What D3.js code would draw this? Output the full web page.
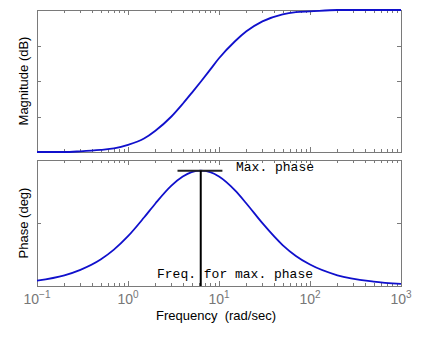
<!DOCTYPE html>
<html><head><meta charset="utf-8">
<script src="https://cdn.jsdelivr.net/npm/d3@7"></script>
<style>body{margin:0;background:#fff}svg{display:block}</style>
</head><body>
<svg id="chart" width="424" height="337"></svg>
<script>
// Frequencies (rad/sec)
const freqs = [0.1, 0.2, 0.3, 0.5, 0.7, 1, 1.5, 2, 3, 4, 5, 6.3, 8, 10, 15, 20, 30, 50, 70, 100, 200, 500, 1000];
// Magnitude (dB)
const magnitude = [0.0, 0.0, 0.1, 0.3, 0.5, 1.0, 1.9, 3.0, 5.0, 6.8, 8.3, 9.9, 11.6, 13.2, 15.6, 17.0, 18.4, 19.4, 19.7, 19.8, 20.0, 20.0, 20.0];
// Phase (deg)
const phase = [2.6, 5.1, 7.7, 12.6, 17.3, 23.7, 32.6, 39.3, 47.8, 52.1, 54.2, 54.9, 54.2, 52.1, 45.5, 39.3, 29.9, 19.5, 14.3, 10.2, 5.1, 2.1, 1.0];
// x tick labels (exponents of 10)
const xTickExps = [-1, 0, 1, 2, 3];
// y tick values (no labels shown)
const magTicks = [0, 5, 10, 15, 20];
const phaseTicks = [0, 30, 60];
// Annotation
const maxPhaseFreq = 6.3, maxPhase = 54.9;
const maxPhaseBar = [3.5, 10.9];
const annoLabels = ["Max. phase", "Freq. for max. phase"];

const svg = d3.select("#chart");
const x = d3.scaleLog().domain([0.1, 1000]).range([37, 401]);
const yMag = d3.scaleLinear().domain([0, 20]).range([152, 10]);
const yPh = d3.scaleLinear().domain([0, 60]).range([286, 160]);

const frameColor = "#7a7a7a";
const majors = xTickExps.map(e => Math.pow(10, e));
const minors = [];
for (let e = -1; e < 3; e++) for (let k = 2; k <= 9; k++) minors.push(k * Math.pow(10, e));

function panel(y, yticks) {
  const [y0, y1] = y.range();
  const g = svg.append("g");
  g.append("rect").attr("x", x.range()[0] + 0.5).attr("y", y1 + 0.5)
    .attr("width", x.range()[1] - x.range()[0]).attr("height", y0 - y1)
    .attr("fill", "none").attr("stroke", frameColor).attr("stroke-width", 1);
  const ticks = majors.map(v => ({v, len: 5})).concat(minors.map(v => ({v, len: 3})));
  ticks.forEach(t => {
    const px = Math.round(x(t.v)) + 0.5;
    g.append("line").attr("x1", px).attr("x2", px).attr("y1", y0).attr("y2", y0 - t.len)
      .attr("stroke", frameColor);
    g.append("line").attr("x1", px).attr("x2", px).attr("y1", y1).attr("y2", y1 + t.len)
      .attr("stroke", frameColor);
  });
  yticks.forEach(v => {
    const py = Math.round(y(v)) + 0.5;
    g.append("line").attr("x1", x.range()[0]).attr("x2", x.range()[0] + 4).attr("y1", py).attr("y2", py).attr("stroke", frameColor);
    g.append("line").attr("x1", x.range()[1]).attr("x2", x.range()[1] - 4).attr("y1", py).attr("y2", py).attr("stroke", frameColor);
  });
  return g;
}
panel(yMag, magTicks);
panel(yPh, phaseTicks);

const lineMag = d3.line().x((d, i) => x(freqs[i])).y(d => yMag(d)).curve(d3.curveMonotoneX);
const linePh = d3.line().x((d, i) => x(freqs[i])).y(d => yPh(d)).curve(d3.curveMonotoneX);
svg.append("path").attr("d", lineMag(magnitude)).attr("fill", "none").attr("stroke", "#1010cc").attr("stroke-width", 1.8);
svg.append("path").attr("d", linePh(phase)).attr("fill", "none").attr("stroke", "#1010cc").attr("stroke-width", 1.8);

// Annotation lines
svg.append("line").attr("x1", x(maxPhaseBar[0])).attr("x2", x(maxPhaseBar[1]))
  .attr("y1", yPh(maxPhase)).attr("y2", yPh(maxPhase)).attr("stroke", "#222").attr("stroke-width", 2);
svg.append("line").attr("x1", x(maxPhaseFreq)).attr("x2", x(maxPhaseFreq))
  .attr("y1", yPh(maxPhase)).attr("y2", yPh(0)).attr("stroke", "#000").attr("stroke-width", 2);
svg.append("text").attr("x", 236).attr("y", 171).text(annoLabels[0])
  .attr("font-family", "Liberation Mono, Courier New, monospace").attr("font-size", 13).attr("fill", "#000");
svg.append("text").attr("x", 157).attr("y", 278).text(annoLabels[1])
  .attr("font-family", "Liberation Mono, Courier New, monospace").attr("font-size", 13).attr("fill", "#000");

// X tick labels
xTickExps.forEach(e => {
  const t = svg.append("text").attr("x", x(Math.pow(10, e))).attr("y", 304)
    .attr("text-anchor", "middle").attr("font-family", "Liberation Sans, Arial, sans-serif")
    .attr("font-size", 14).attr("fill", "#777");
  t.append("tspan").text("10");
  t.append("tspan").attr("dy", -6).attr("font-size", 10).text(e === -1 ? "\u22121" : String(e));
});

// Axis labels
svg.append("text").attr("x", 216).attr("y", 320).attr("text-anchor", "middle")
  .attr("font-family", "Liberation Sans, Arial, sans-serif").attr("font-size", 13).attr("fill", "#000")
  .attr("xml:space", "preserve").style("white-space", "pre").text("Frequency  (rad/sec)");
svg.append("text").attr("transform", "translate(28,81) rotate(-90)").attr("text-anchor", "middle")
  .attr("font-family", "Liberation Sans, Arial, sans-serif").attr("font-size", 13).attr("fill", "#000")
  .text("Magnitude (dB)");
svg.append("text").attr("transform", "translate(28,223) rotate(-90)").attr("text-anchor", "middle")
  .attr("font-family", "Liberation Sans, Arial, sans-serif").attr("font-size", 13).attr("fill", "#000")
  .text("Phase (deg)");
</script>
</body></html>
